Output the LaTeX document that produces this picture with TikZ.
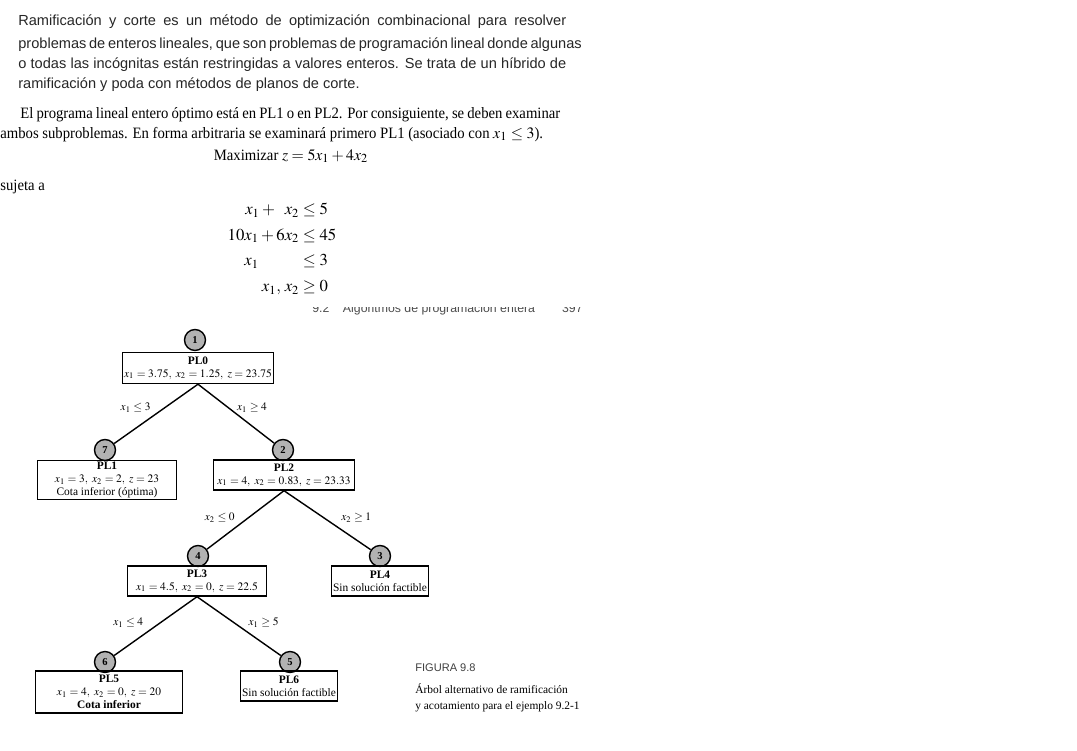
\documentclass[tikz,border=0pt]{standalone}
\usepackage{mathptmx}
\usepackage{fontspec}
\setmainfont{Liberation Serif}
\setsansfont{Liberation Sans}
\newfontfamily\libro[FakeStretch=0.93]{Liberation Serif}

\begin{document}
\begin{tikzpicture}[x=0.02cm,y=-0.02cm,
    num/.style={circle,draw=black,thick,fill=gray!60,minimum size=0.42cm,inner sep=0pt,font=\fontsize{6}{6}\selectfont\bfseries},
    caja/.style={draw,thick,align=center,inner sep=1pt,font=\fontsize{6.5}{7.4}\selectfont},
    rama/.style={font=\fontsize{6.5}{7}\selectfont,inner sep=1pt}]
  \useasboundingbox (0,0) rectangle (1077,750);

  % parrafo en sans
  \begin{scope}[every node/.style={anchor=base west,inner sep=0pt,text=black!85,font=\sffamily\fontsize{8.3}{10}\selectfont}]
    \node (s1) at (18,26) {\makebox[10.96cm][s]{Ramificación y corte es un método de optimización combinacional para resolver}};
    \node (s2) at (18,49) {\makebox[10.96cm][s]{problemas de enteros lineales, que son problemas de programación lineal donde algunas}};
    \node (s3) at (18,69) {\makebox[10.96cm][s]{o todas las incógnitas están restringidas a valores enteros. Se trata de un híbrido de}};
    \node (s4) at (18,89) {ramificación y poda con métodos de planos de corte.};
  \end{scope}

  % parrafo del libro
  \begin{scope}[every node/.style={anchor=base west,inner sep=0pt,font=\libro\fontsize{9}{11}\selectfont}]
    \node (p1) at (20,118) {\makebox[10.8cm][s]{El programa lineal entero óptimo está en PL1 o en PL2. Por consiguiente, se deben examinar}};
    \node (p2) at (0,138) {ambos subproblemas. En forma arbitraria se examinará primero PL1 (asociado con $x_1\leq 3$).};
    \node (p3) at (0,190) {sujeta a};
  \end{scope}
  \node[font=\libro\fontsize{9}{11}\selectfont] (maxi) at (291,156) {Maximizar $z=5x_1+4x_2$};
  \node[font=\fontsize{9.5}{11}\selectfont] (restr) at (282,248) {$\renewcommand{\arraystretch}{1.33}\begin{array}{r@{\;}l}
      x_1+\;\;x_2 & \leq 5\\
      10x_1+6x_2 & \leq 45\\
      x_1\phantom{{}+6x_2} & \leq 3\\
      x_1,\,x_2 & \geq 0
    \end{array}$};

  % cabecera cortada
  \begin{scope}
    \clip (300,307) rectangle (600,320);
    \node[anchor=base west,inner sep=0pt,text=black!70,font=\sffamily\fontsize{7}{7}\selectfont] (cab) at (312,312)
      {9.2\hspace{1.1em}Algoritmos de programación entera\hspace{2.2em}397};
  \end{scope}

  % arbol
  \node[num] (c1) at (195,340) {1};
  \node[caja,minimum width=2.94cm,minimum height=0.62cm] (pl0) at (198,368)
    {\textbf{PL0}\\$x_1=3.75,\ x_2=1.25,\ z=23.75$};
  \node[num] (c7) at (105,450) {7};
  \node[caja,minimum width=2.78cm,minimum height=0.76cm] (pl1) at (107,480)
    {\textbf{PL1}\\$x_1=3,\ x_2=2,\ z=23$\\Cota inferior (óptima)};
  \node[num] (c2) at (283,450) {2};
  \node[caja,minimum width=2.82cm,minimum height=0.6cm] (pl2) at (284,475)
    {\textbf{PL2}\\$x_1=4,\ x_2=0.83,\ z=23.33$};
  \node[num] (c4) at (198,556) {4};
  \node[caja,minimum width=2.78cm,minimum height=0.6cm] (pl3) at (197,581)
    {\textbf{PL3}\\$x_1=4.5,\ x_2=0,\ z=22.5$};
  \node[num] (c3) at (380,556) {3};
  \node[caja,minimum width=1.9cm,minimum height=0.6cm] (pl4) at (380,581)
    {\textbf{PL4}\\Sin solución factible};
  \node[num] (c6) at (105,662) {6};
  \node[caja,minimum width=2.94cm,minimum height=0.84cm] (pl5) at (109,692)
    {\textbf{PL5}\\$x_1=4,\ x_2=0,\ z=20$\\\textbf{Cota inferior}};
  \node[num] (c5) at (290,662) {5};
  \node[caja,minimum width=1.94cm,minimum height=0.6cm] (pl6) at (289,686)
    {\textbf{PL6}\\Sin solución factible};

  \draw[thick] (pl0.south) -- node[rama,pos=0.4,left=6.5pt] {$x_1\leq 3$} (c7);
  \draw[thick] (pl0.south) -- node[rama,pos=0.4,right=3.5pt] {$x_1\geq 4$} (c2);
  \draw[thick] (pl2.south) -- node[rama,pos=0.46,left=6.5pt] {$x_2\leq 0$} (c4);
  \draw[thick] (pl2.south) -- node[rama,pos=0.46,right=8.5pt] {$x_2\geq 1$} (c3);
  \draw[thick] (pl3.south) -- node[rama,pos=0.44,left=8.5pt] {$x_1\leq 4$} (c6);
  \draw[thick] (pl3.south) -- node[rama,pos=0.44,right=7pt] {$x_1\geq 5$} (c5);

  % leyenda
  \node[anchor=base west,inner sep=0pt,text=black!75,font=\sffamily\fontsize{6.3}{7}\selectfont] (fig) at (415,671) {FIGURA 9.8};
  \node[anchor=north west,inner sep=0pt,align=left,font=\fontsize{6.5}{9.5}\selectfont] (ley) at (415,683)
    {Árbol alternativo de ramificación\\y acotamiento para el ejemplo 9.2-1};
\end{tikzpicture}
\end{document}
